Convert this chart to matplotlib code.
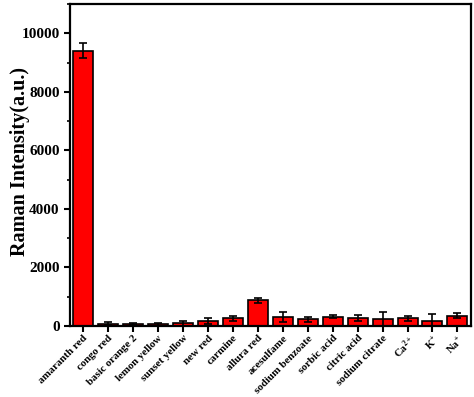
import matplotlib
matplotlib.use("Agg")
import matplotlib.pyplot as plt
import numpy as np
from matplotlib.ticker import MultipleLocator

samples = ["amaranth red", "congo red", "basic orange 2", "lemon yellow", "sunset yellow",
           "new red", "carmine", "allura red", "acesulfame", "sodium benzoate",
           "sorbic acid", "citric acid", "sodium citrate", r"Ca$^{2+}$", r"K$^{+}$", r"Na$^{+}$"]
intensity = [9400, 80, 70, 60, 90, 170, 260, 880, 310, 230, 320, 285, 240, 260, 180, 355]
errors = [250, 60, 40, 50, 80, 100, 90, 90, 170, 90, 45, 100, 240, 90, 230, 70]

plt.rcParams["font.family"] = "Liberation Serif"
plt.rcParams["font.weight"] = "bold"
plt.rcParams["mathtext.fontset"] = "custom"
plt.rcParams["mathtext.rm"] = "Liberation Serif:bold"
plt.rcParams["mathtext.it"] = "Liberation Serif:bold"

fig = plt.figure(figsize=(4.74, 3.97), dpi=100)
ax = fig.add_axes([0.148, 0.179, 0.846, 0.811])

x = np.arange(len(samples))
ax.bar(x, intensity, width=0.8, color="#ff0000", edgecolor="black", linewidth=1.2,
       yerr=errors, capsize=3, error_kw=dict(elinewidth=1.2, capthick=1.2, ecolor="black"))

ax.set_xlim(-0.52, len(samples) - 0.45)
ax.set_ylim(0, 11000)
ax.yaxis.set_major_locator(MultipleLocator(2000))
ax.yaxis.set_minor_locator(MultipleLocator(1000))
ax.set_xticks(x)
ax.set_xticklabels(samples, rotation=45, ha="right", rotation_mode="anchor", fontsize=7.8)
ax.tick_params(axis="y", labelsize=11, width=1.5, length=4)
ax.tick_params(axis="y", which="minor", width=1.2, length=2.5)
ax.tick_params(axis="x", width=1.5, length=4, pad=1.5)
ax.set_ylabel("Raman Intensity(a.u.)", fontsize=14.5, fontweight="bold")
ax.yaxis.set_label_coords(-0.10, 0.51)
for s in ax.spines.values():
    s.set_linewidth(1.6)

fig.savefig("out.png", dpi=100)
